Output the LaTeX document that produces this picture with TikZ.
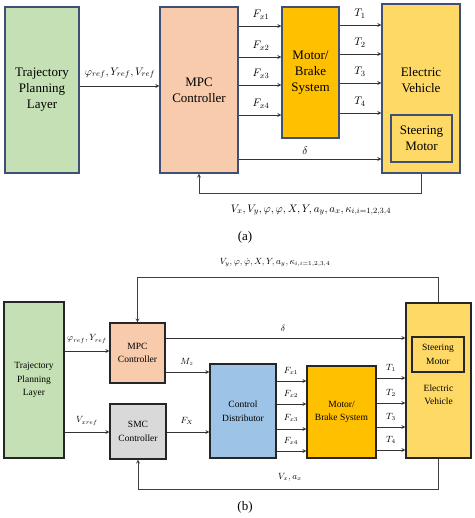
\documentclass[tikz,border=0pt]{standalone}
\usepackage{fontspec}
\setmainfont{Liberation Serif}
\usepackage{tikz}
\usetikzlibrary{arrows,shapes,backgrounds,calc}
\definecolor{edgeblue}{HTML}{3F5077}
\definecolor{edgedark}{HTML}{262626}
\definecolor{planGreen}{HTML}{C5E0B4}
\definecolor{mpcPeach}{HTML}{F8CBAD}
\definecolor{motorOrange}{HTML}{FFC000}
\definecolor{vehYellow}{HTML}{FFD966}
\definecolor{smcGray}{HTML}{D9D9D9}
\definecolor{distBlue}{HTML}{9DC3E6}
\newcommand{\blockfont}{\fontsize{13}{16}\selectfont}
\newcommand{\smallblockfont}{\fontsize{9.5}{13.5}\selectfont}
\newcommand{\sigfont}{\fontsize{11}{13}\selectfont}
\newcommand{\smallsigfont}{\fontsize{9}{11}\selectfont}
\tikzset{
  blkA/.style={draw=edgeblue, line width=1.2pt, align=center, font=\blockfont},
  blkB/.style={draw=edgedark, line width=1.1pt, align=center, font=\smallblockfont},
  sig/.style={-stealth, line width=0.8pt, draw=black!80},
  fb/.style={line width=0.8pt, draw=black!75},
}

\begin{document}
\begin{tikzpicture}[x=1pt, y=-1pt, every node/.style={inner sep=0pt}]
      \useasboundingbox (0,0) rectangle (474,518);

      % (a)
      \node[blkA, fill=planGreen, minimum width=74pt, minimum height=166pt] at (42,90) (tplA) {Trajectory\\Planning\\Layer};
      \node[blkA, fill=mpcPeach, minimum width=78pt, minimum height=166pt] at (199,90) (mpcA) {MPC\\Controller};
      \node[blkA, fill=motorOrange, minimum width=57pt, minimum height=131pt] at (310.5,72.5) (mbA) {Motor/\\Brake\\System};
      \node[blkA, fill=vehYellow, minimum width=78pt, minimum height=169pt] at (421,88.5) (evA) {};
      \node[align=center, font=\blockfont] at (421,80) (evAtxt) {Electric\\Vehicle};
      \node[blkA, fill=vehYellow, minimum width=61pt, minimum height=47pt] at (421.5,138.5) (smA) {Steering\\Motor};

      \draw[sig] (tplA.east |- 0,86) -- (mpcA.west |- 0,86);
      \draw[sig] (mpcA.east |- 0,26) -- (mbA.west |- 0,26);
      \draw[sig] (mpcA.east |- 0,57) -- (mbA.west |- 0,57);
      \draw[sig] (mpcA.east |- 0,85) -- (mbA.west |- 0,85);
      \draw[sig] (mpcA.east |- 0,115) -- (mbA.west |- 0,115);
      \draw[sig] (mbA.east |- 0,25) -- (evA.west |- 0,25);
      \draw[sig] (mbA.east |- 0,54) -- (evA.west |- 0,54);
      \draw[sig] (mbA.east |- 0,83) -- (evA.west |- 0,83);
      \draw[sig] (mbA.east |- 0,113) -- (evA.west |- 0,113);
      \draw[sig] (mpcA.east |- 0,159) -- (evA.west |- 0,159);
      \draw[fb, -stealth] (evA.south) -- (evA.south |- 0,193) -| (mpcA.south);

      \node[font=\sigfont] at (120,73) (refA) {$\varphi_{ref}, Y_{ref}, V_{ref}$};
      \node[font=\sigfont] at (261,15) (fx1A) {$F_{x1}$};
      \node[font=\sigfont] at (261,46) (fx2A) {$F_{x2}$};
      \node[font=\sigfont] at (261,74) (fx3A) {$F_{x3}$};
      \node[font=\sigfont] at (261,104) (fx4A) {$F_{x4}$};
      \node[font=\sigfont] at (360,14) (t1A) {$T_1$};
      \node[font=\sigfont] at (360,43) (t2A) {$T_2$};
      \node[font=\sigfont] at (360,72) (t3A) {$T_3$};
      \node[font=\sigfont] at (360,102) (t4A) {$T_4$};
      \node[font=\sigfont] at (305,151) (deltaA) {$\delta$};
      \node[font=\sigfont] at (311,210) (stateA) {$V_x, V_y, \varphi, \varphi, X, Y, a_y, a_x, \kappa_{i,i=1,2,3,4}$};
      \node[font=\blockfont] at (245,237) (capA) {(a)};

      % (b)
      \node[blkB, fill=planGreen, minimum width=60pt, minimum height=156pt] at (34,380) (tplB) {Trajectory\\Planning\\Layer};
      \node[blkB, fill=mpcPeach, minimum width=55pt, minimum height=60pt] at (137.5,353) (mpcB) {MPC\\Controller};
      \node[blkB, fill=smcGray, minimum width=56pt, minimum height=55pt] at (138,431.5) (smcB) {SMC\\Controller};
      \node[blkB, fill=distBlue, minimum width=66pt, minimum height=94pt] at (243,411) (cdB) {Control\\Distributor};
      \node[blkB, fill=motorOrange, minimum width=69pt, minimum height=92pt] at (341.5,412) (mbB) {Motor/\\Brake System};
      \node[blkB, fill=vehYellow, minimum width=65pt, minimum height=155pt] at (438.5,380.5) (evB) {};
      \node[align=center, font=\smallblockfont] at (438.5,395) (evBtxt) {Electric\\Vehicle};
      \node[blkB, fill=vehYellow, minimum width=52pt, minimum height=35pt] at (438,354.5) (smB) {Steering\\Motor};

      \draw[sig] (tplB.east |- 0,351) -- (mpcB.west |- 0,351);
      \draw[sig] (tplB.east |- 0,432) -- (smcB.west |- 0,432);
      \draw[sig] (mpcB.east |- 0,372) -- (cdB.west |- 0,372);
      \draw[sig] (smcB.east |- 0,432) -- (cdB.west |- 0,432);
      \draw[sig] (mpcB.east |- 0,338) -- (evB.west |- 0,338);
      \draw[sig] (cdB.east |- 0,381) -- (mbB.west |- 0,381);
      \draw[sig] (cdB.east |- 0,404) -- (mbB.west |- 0,404);
      \draw[sig] (cdB.east |- 0,429) -- (mbB.west |- 0,429);
      \draw[sig] (cdB.east |- 0,451) -- (mbB.west |- 0,451);
      \draw[sig] (mbB.east |- 0,378) -- (evB.west |- 0,378);
      \draw[sig] (mbB.east |- 0,403) -- (evB.west |- 0,403);
      \draw[sig] (mbB.east |- 0,427) -- (evB.west |- 0,427);
      \draw[sig] (mbB.east |- 0,450) -- (evB.west |- 0,450);
      \draw[fb, -stealth] (evB.north) -- (evB.north |- 0,277) -| (mpcB.north);
      \draw[fb, -stealth] (evB.south) -- (evB.south |- 0,489) -| (smcB.south);

      \node[font=\smallsigfont] at (87,339) (refB) {$\varphi_{ref}, Y_{ref}$};
      \node[font=\smallsigfont] at (87,421) (vrefB) {$V_{xref}$};
      \node[font=\smallsigfont] at (187,362) (mzB) {$M_z$};
      \node[font=\smallsigfont] at (187,421) (fxB) {$F_X$};
      \node[font=\smallsigfont] at (283,328) (deltaB) {$\delta$};
      \node[font=\smallsigfont] at (291,371) (fx1B) {$F_{x1}$};
      \node[font=\smallsigfont] at (291,394) (fx2B) {$F_{x2}$};
      \node[font=\smallsigfont] at (291,418) (fx3B) {$F_{x3}$};
      \node[font=\smallsigfont] at (291,441) (fx4B) {$F_{x4}$};
      \node[font=\smallsigfont] at (391,368) (t1B) {$T_1$};
      \node[font=\smallsigfont] at (391,393) (t2B) {$T_2$};
      \node[font=\smallsigfont] at (391,417) (t3B) {$T_3$};
      \node[font=\smallsigfont] at (391,440) (t4B) {$T_4$};
      \node[font=\smallsigfont] at (275,263) (stateB) {$V_y, \varphi, \dot{\varphi}, X, Y, a_y, \kappa_{i,i=1,2,3,4}$};
      \node[font=\smallsigfont] at (290,477) (vxB) {$V_x, a_x$};
      \node[font=\blockfont] at (245,507) (capB) {(b)};
\end{tikzpicture}
\end{document}
